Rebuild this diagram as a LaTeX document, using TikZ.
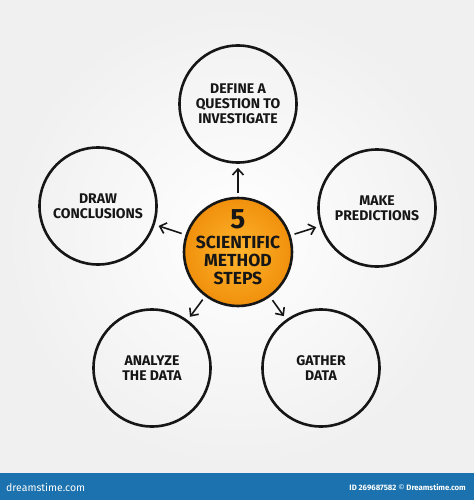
\documentclass[tikz,border=0pt]{standalone}
\usepackage{fontspec}
\setmainfont{Fira Sans}
\usetikzlibrary{arrows.meta}
\definecolor{ink}{HTML}{161616}
\definecolor{orIn}{HTML}{FFB52E}
\definecolor{orOut}{HTML}{F0900C}
\definecolor{footblue}{HTML}{1C72AE}
\definecolor{footlight}{HTML}{9CCBEA}
\tikzset{
  bubble/.style={circle, draw=ink, line width=2.6pt, minimum size=117pt, inner sep=0pt,
    align=center, text=ink, font=\bfseries\fontsize{14}{15}\selectfont},
  core/.style={circle, draw=ink, line width=2.6pt, minimum size=108pt, inner sep=0pt,
    inner color=orIn, outer color=orOut},
  arr/.style={-{Straight Barb[length=6pt,width=11pt]}, line width=1.6pt, draw=ink,
    shorten <=4pt, shorten >=4pt},
  foot/.style={text=white, inner sep=0pt}
}
\begin{document}
\begin{tikzpicture}[x=1pt,y=-1pt]
\useasboundingbox (0,0) rectangle (474,500);
\shade[inner color=white, outer color=black!6] (0,0) rectangle (474,473);
\fill[footblue] (0,473) rectangle (474,500);

\node[core] (c) at (238,252) {};
\node[align=center, text=ink, font=\bfseries\fontsize{17.5}{18}\selectfont] (ct) at (238,247)
  {{\fontsize{28}{28}\selectfont 5}\\[1.5pt]SCIENTIFIC\\METHOD\\STEPS};

\node[bubble] (q) at (238,104) {DEFINE A\\QUESTION TO\\INVESTIGATE};
\node[bubble] (p) at (377,208) {MAKE\\PREDICTIONS};
\node[bubble] (g) at (321,368) {GATHER\\DATA};
\node[bubble] (a) at (152,368) {ANALYZE\\THE DATA};
\node[bubble] (d) at (98,206) {DRAW\\CONCLUSIONS};

\draw[arr] (c) -- (q);
\draw[arr] (c) -- (p);
\draw[arr] (c) -- (g);
\draw[arr] (c) -- (a);
\draw[arr] (c) -- (d);

\node[foot, anchor=west, font=\fontsize{10.5}{11}\selectfont] (wm) at (6,487) {dreamstime.com};
\node[foot, anchor=east, font=\bfseries\fontsize{7.8}{8}\selectfont] (id) at (466,487)
  {ID 269687582 \textcolor{footlight}{©} Dreamstime.com};
\end{tikzpicture}
\end{document}
